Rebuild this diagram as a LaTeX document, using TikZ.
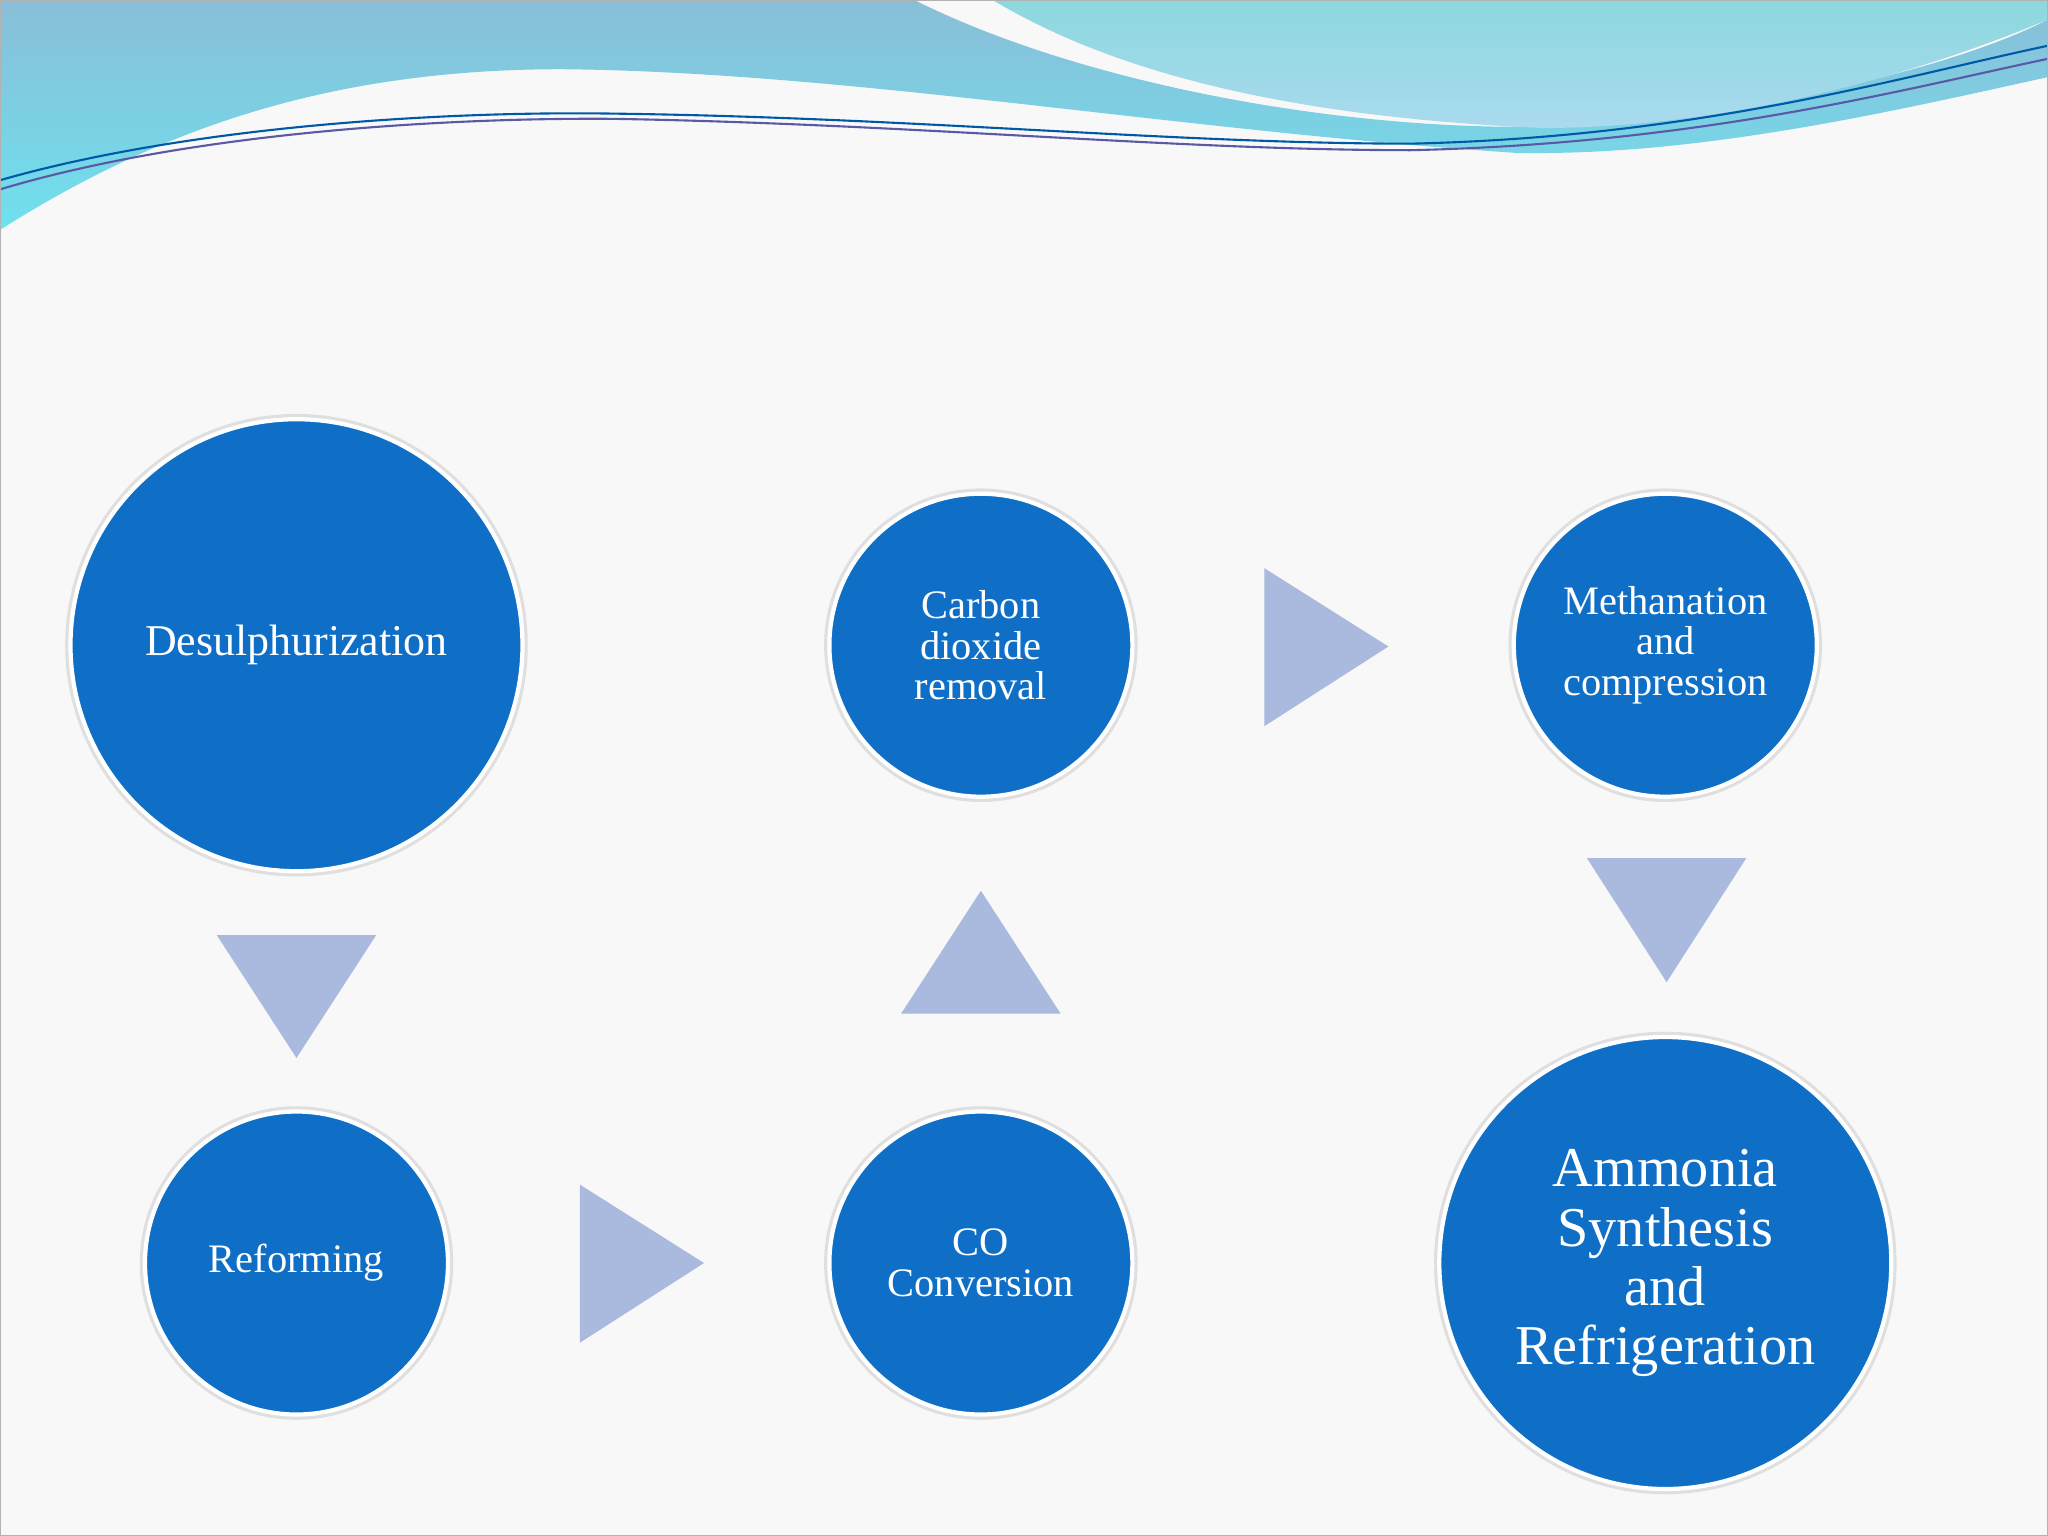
\documentclass[tikz,border=0pt]{standalone}
\usepackage{fontspec}
\setmainfont{Liberation Serif}
\definecolor{circ}{HTML}{0F6FC6}
\definecolor{tri}{HTML}{AAB9DE}
\definecolor{bg}{HTML}{F8F8F8}
\begin{document}
\begin{tikzpicture}[x=0.013061cm,y=-0.013061cm,
  stage/.style={circle,fill=circ,draw=white,line width=1.2pt,text=white,align=center,inner sep=0pt,
     preaction={draw=gray!25,line width=3pt}},
  big/.style={minimum size=4.52cm},
  small/.style={minimum size=3.03cm},
  arr/.style={fill=tri,draw=none}]
\fill[bg] (0,0) rectangle (1568,1176);
\useasboundingbox (0,0) rectangle (1568,1176);
% waves
\shade[top color={rgb,255:red,138;green,190;blue,216},bottom color={rgb,255:red,110;green,225;blue,238}]
 (0,0) -- (700,0) .. controls (820,60) and (1000,95) .. (1150,97)
 .. controls (1300,95) and (1480,60) .. (1568,15) -- (1568,59)
 .. controls (1450,85) and (1300,120) .. (1160,117)
 .. controls (900,100) and (650,55) .. (430,53)
 .. controls (250,53) and (120,100) .. (0,176) -- cycle;
\shade[top color={rgb,255:red,140;green,216;blue,222},bottom color={rgb,255:red,170;green,218;blue,238}]
 (760,0) -- (1568,0) -- (1568,15) .. controls (1460,60) and (1320,98) .. (1180,98)
 .. controls (1000,90) and (860,60) .. (760,0) -- cycle;
\draw[teal!70!blue,line width=0.6pt] (0,138) .. controls (150,95) and (350,85) .. (470,87)
 .. controls (700,90) and (900,110) .. (1080,110) .. controls (1300,105) and (1450,60) .. (1568,35);
\draw[gray!70!blue,line width=0.6pt] (0,145) .. controls (150,100) and (350,90) .. (470,91)
 .. controls (700,95) and (900,115) .. (1080,115) .. controls (1300,110) and (1450,70) .. (1568,45);
\draw[gray!60,line width=0.6pt] (0,0) rectangle (1568,1176);
% circles
\node[stage,big,font=\fontsize{12.5}{15}\selectfont] (des) at (227,494) {Desulphurization};
\node[stage,small,font=\fontsize{11.5}{13}\selectfont] (ref) at (227,967) {Reforming};
\node[stage,small,font=\fontsize{11.5}{11.5}\selectfont] (co) at (751,967) {CO\\Conversion};
\node[stage,small,font=\fontsize{11.5}{11.5}\selectfont] (cdr) at (751,494) {Carbon\\dioxide\\removal};
\node[stage,small,font=\fontsize{11.5}{11.5}\selectfont] (met) at (1275,494) {Methanation\\and\\compression};
\node[stage,big,font=\fontsize{16}{16.8}\selectfont] (amm) at (1275,967) {Ammonia\\Synthesis\\and\\Refrigeration};
% arrows
\fill[arr] (166,716) -- (288,716) -- (227,810) -- cycle;
\fill[arr] (444,907) -- (444,1028) -- (539,967) -- cycle;
\fill[arr] (690,776) -- (812,776) -- (751,682) -- cycle;
\fill[arr] (968,435) -- (968,556) -- (1063,495) -- cycle;
\fill[arr] (1215,657) -- (1337,657) -- (1276,752) -- cycle;
\end{tikzpicture}
\end{document}
